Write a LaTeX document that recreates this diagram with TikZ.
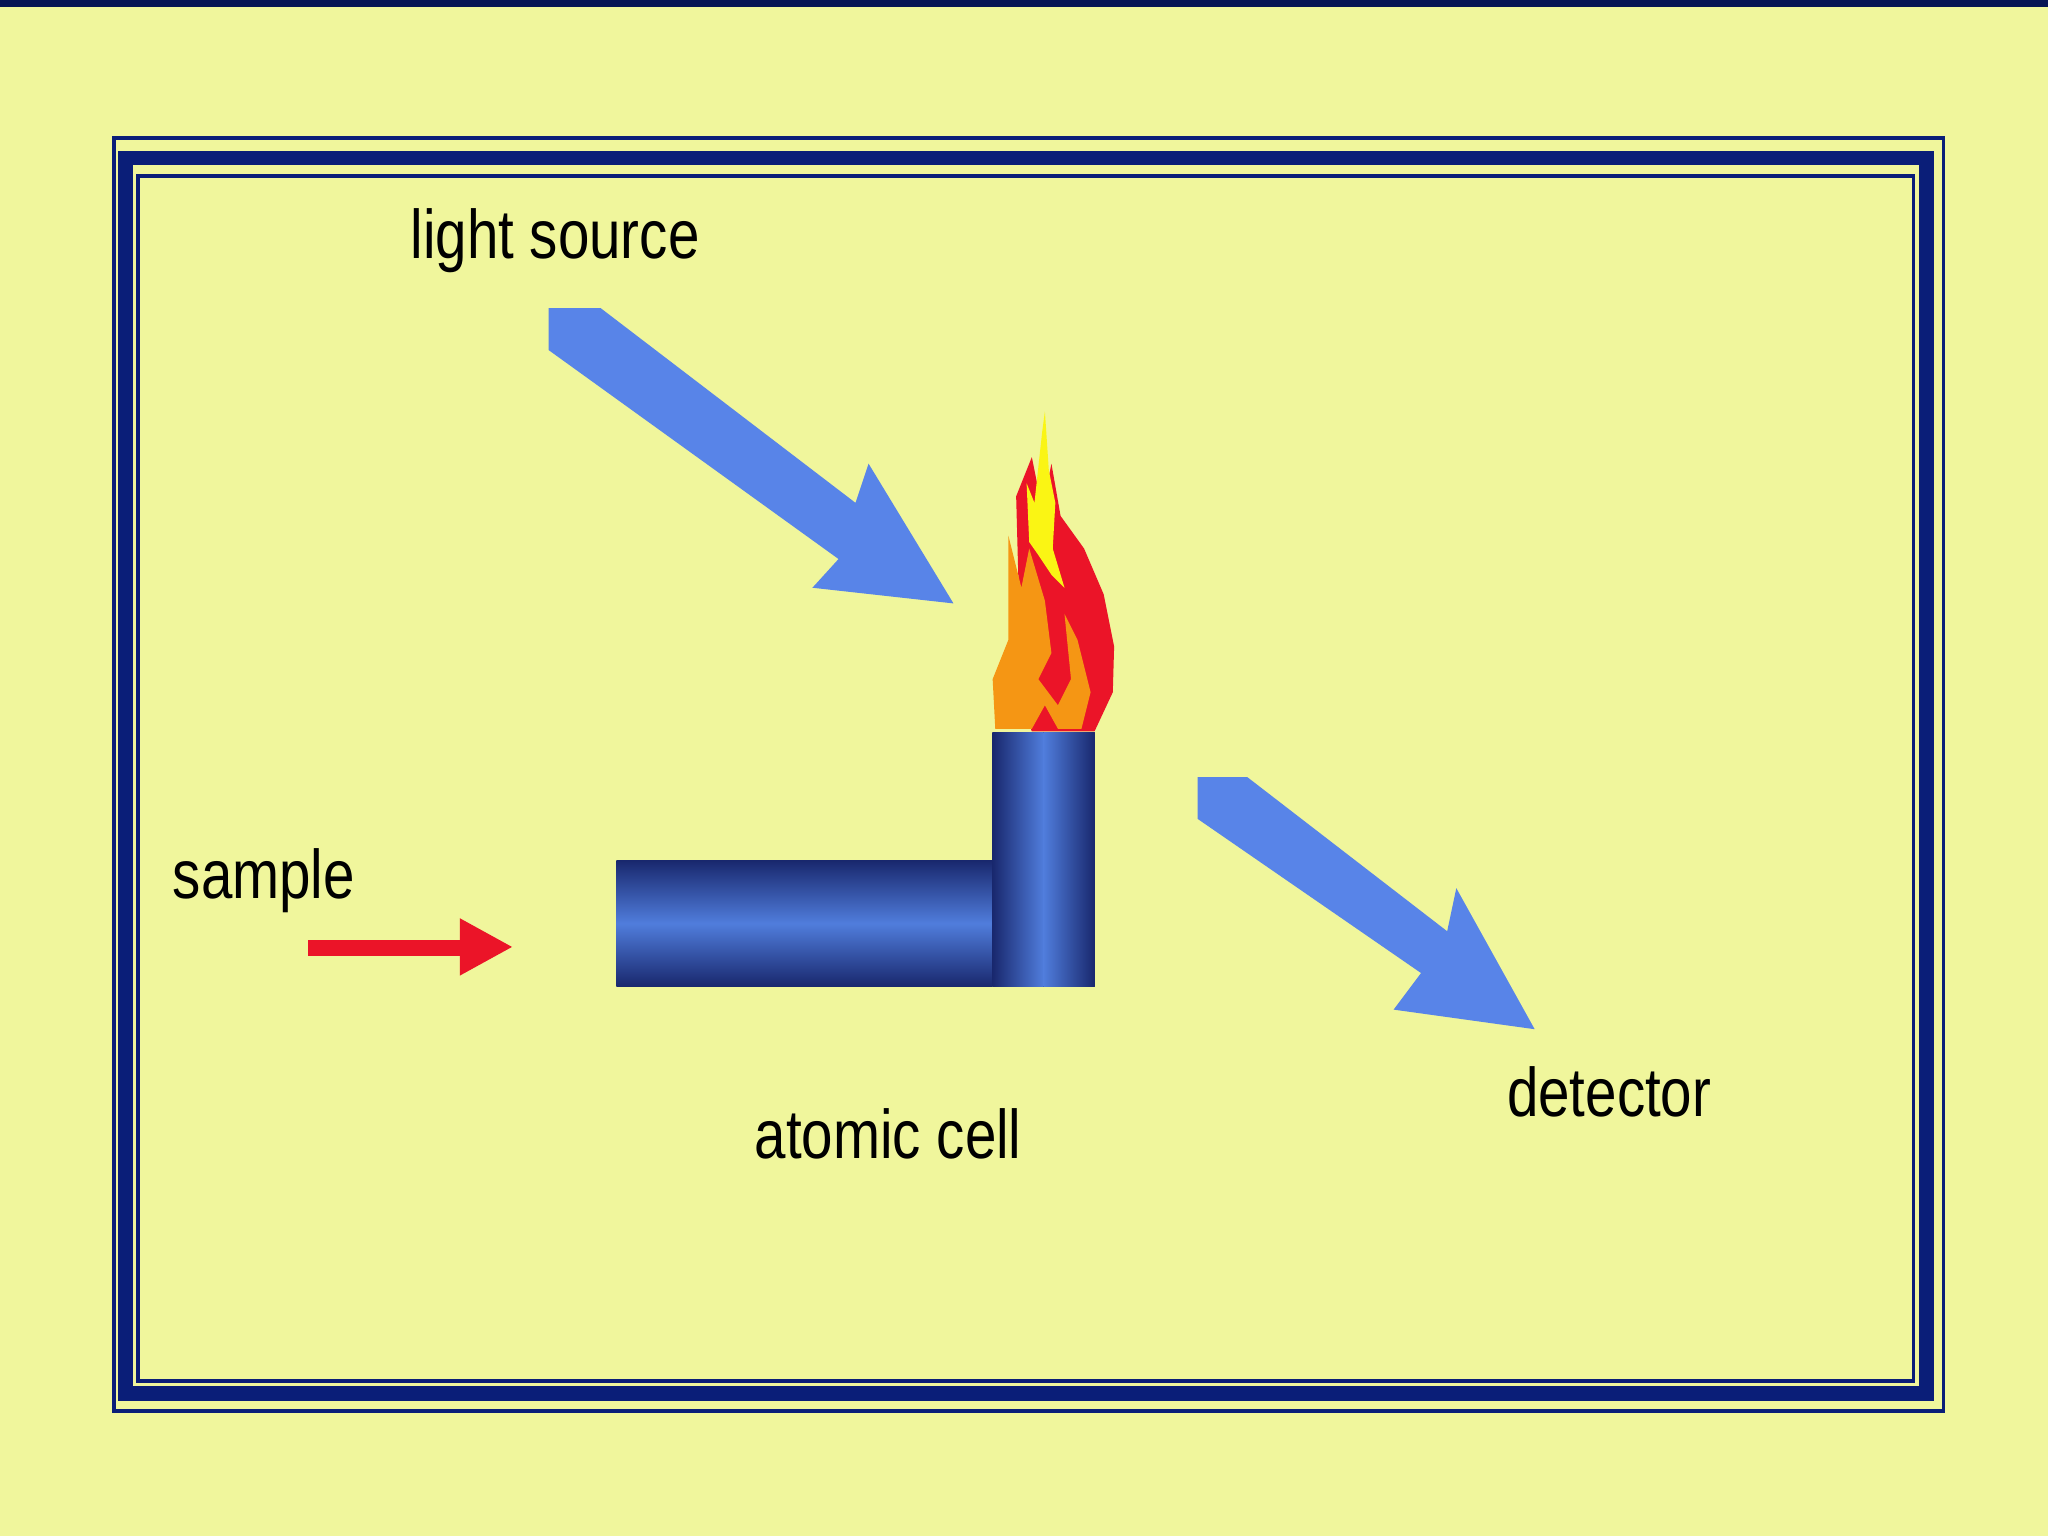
\documentclass[tikz,border=0pt]{standalone}
\usepackage{fontspec}
\setmainfont{Liberation Sans}
\begin{document}
\definecolor{bg}{RGB}{240,246,156}
\definecolor{navy}{RGB}{10,30,120}
\definecolor{beam}{RGB}{88,132,232}
\definecolor{tdark}{RGB}{25,40,110}
\definecolor{tlight}{RGB}{80,125,220}
\definecolor{fred}{RGB}{235,20,40}
\definecolor{forange}{RGB}{245,150,20}
\definecolor{fyellow}{RGB}{250,245,20}
\begin{tikzpicture}[x=0.01cm,y=-0.01cm,
  lbl/.style={font=\fontsize{15pt}{15pt}\selectfont, xscale=0.82, inner sep=0},
  beamst/.style={fill=beam, draw=none}]
\fill[bg] (0,0) rectangle (1568,1176);
\useasboundingbox (0,0) rectangle (1568,1176);
\fill[navy!70!black] (0,0) rectangle (1568,5);
% frame
\draw[navy, line width=0.3mm] (87,106) rectangle (1488,1080);
\draw[navy, line width=1.1mm] (96,121) rectangle (1475,1067);
\draw[navy, line width=0.3mm] (106,135) rectangle (1465,1057);
% texts
\node[lbl] (ls) at (425,184) {light source};
\node[lbl] (sm) at (202,674) {sample};
\node[lbl] (ac) at (680,868) {atomic cell};
\node[lbl] (dt) at (1232,836) {detector};
% beams
\fill[beamst] (420,236) -- (460,236) -- (655,385) -- (665,355) -- (730,462) -- (622,450) -- (642,428) -- (420,268) -- cycle;
\fill[beamst] (917,595) -- (955,595) -- (1108,713) -- (1115,680) -- (1175,788) -- (1067,773) -- (1088,745) -- (917,627) -- cycle;
% sample arrow
\fill[fred] (236,720) rectangle (355,732);
\fill[fred] (352,703) -- (392,725) -- (352,747) -- cycle;
% tubes
\shade[top color=tdark, bottom color=tdark, middle color=tlight] (472,659) rectangle (760,755);
\shade[left color=tdark, right color=tdark!80, middle color=tlight, shading angle=90] (760,561) rectangle (838,755);
\shade[left color=tdark, right color=tdark] (760,561) rectangle (838,755);
\shade[left color=tdark,right color=tlight] (760,561) rectangle (799,755);
\shade[left color=tlight,right color=tdark] (799,561) rectangle (838,755);
% flame
\fill[fred] (790,560) -- (775,520) -- (780,455) -- (778,380) -- (790,350) -- (798,390) -- (805,355) -- (812,395) -- (830,420) -- (845,455) -- (853,495) -- (852,530) -- (838,560) -- cycle;
\fill[forange] (762,558) -- (760,520) -- (772,490) -- (772,410) -- (782,450) -- (788,420) -- (800,460) -- (805,500) -- (795,520) -- (810,540) -- (820,520) -- (815,470) -- (825,490) -- (835,530) -- (828,558) -- (810,558) -- (800,540) -- (790,558) -- cycle;
\fill[fyellow] (788,415) -- (786,370) -- (792,385) -- (798,330) -- (800,315) -- (803,360) -- (808,385) -- (806,420) -- (815,450) -- (805,440) -- (795,425) -- cycle;
\end{tikzpicture}
\end{document}
